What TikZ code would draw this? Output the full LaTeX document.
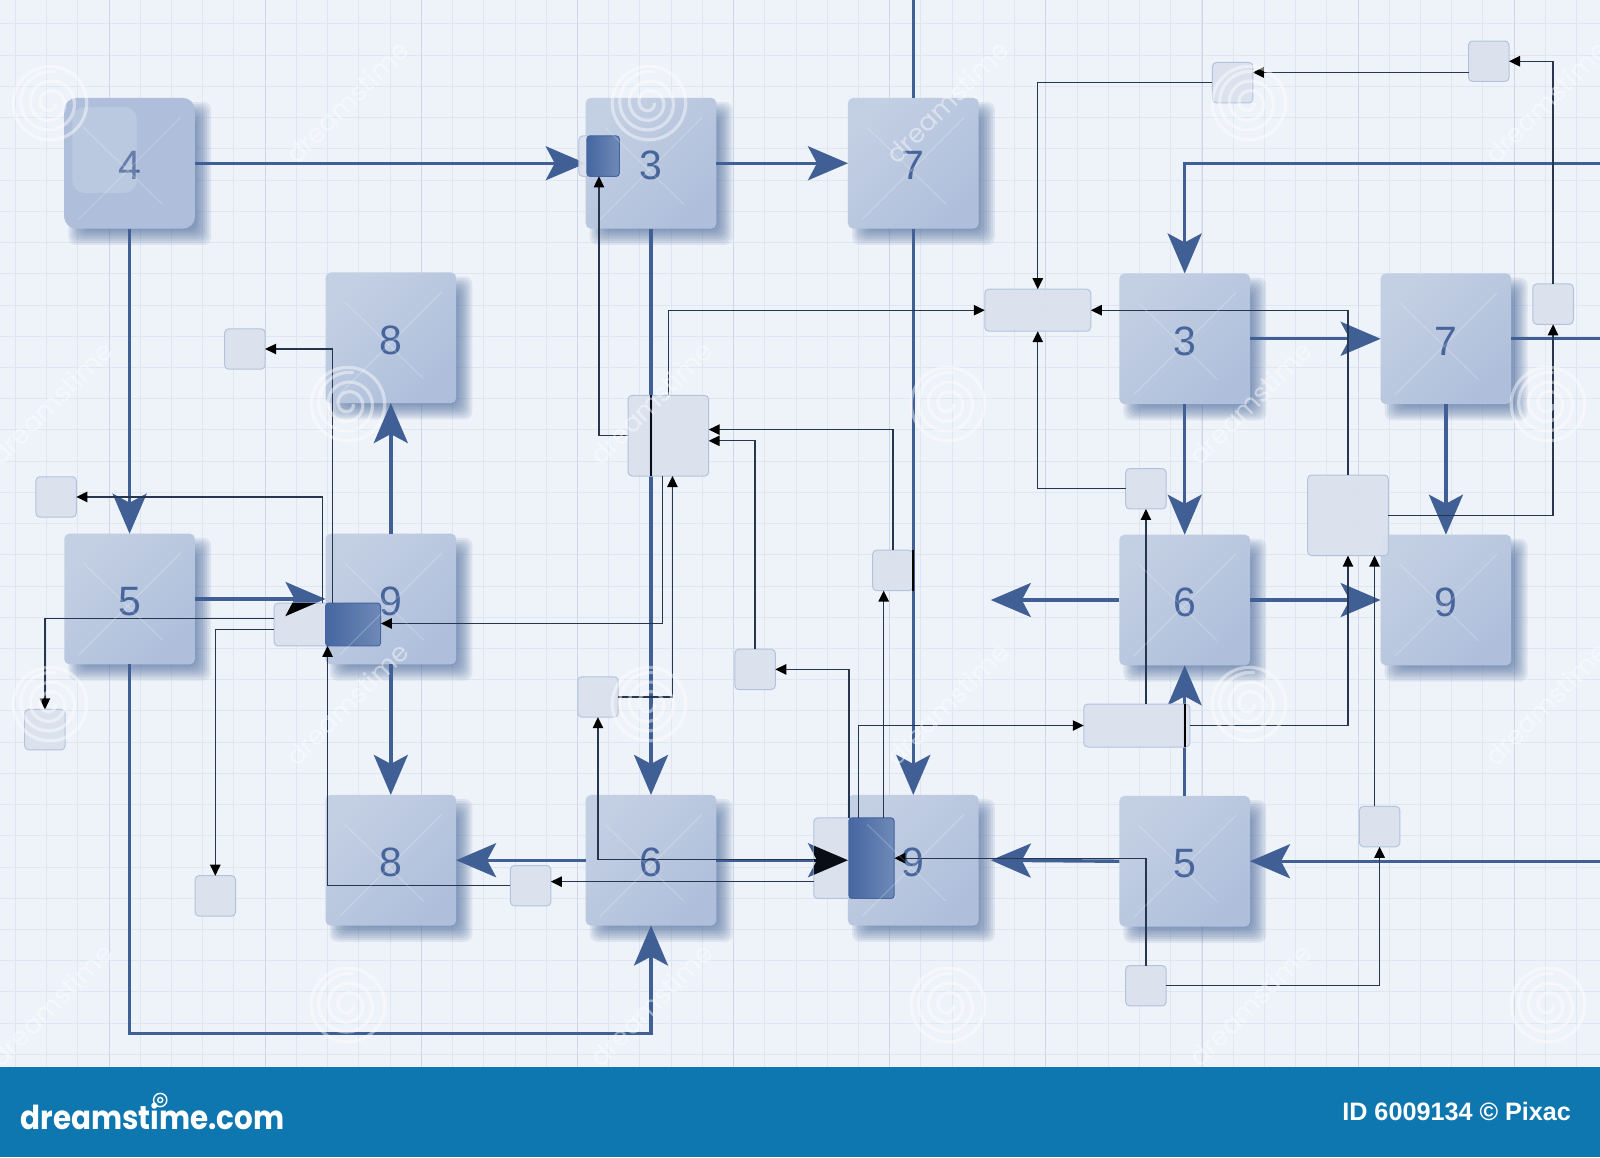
\documentclass[tikz,border=0pt]{standalone}
\usepackage{fontspec}
\setmainfont{Liberation Sans}
\newfontfamily\logofont{Poppins}
\usetikzlibrary{arrows.meta}

\definecolor{paper}{HTML}{EEF2F9}
\definecolor{gridminor}{HTML}{E0E6F1}
\definecolor{gridmajor}{HTML}{CFD7E7}
\definecolor{boxblue}{HTML}{AFBFDB}
\definecolor{boxlight}{HTML}{C3CFE3}
\definecolor{tabfill}{HTML}{DAE1EE}
\definecolor{tabline}{HTML}{B4C3DC}
\definecolor{flowblue}{HTML}{3F5F95}
\definecolor{wirecol}{HTML}{27364F}
\definecolor{digitblue}{HTML}{47659B}
\definecolor{darktab}{HTML}{4566A0}
\definecolor{darktabb}{HTML}{6F8AB8}
\definecolor{footerblue}{HTML}{0F77B0}

\begin{document}
\begin{tikzpicture}[x=0.5102pt, y=-0.5102pt]

% --- Define reusable styles ---
\tikzset{
    bigbox/.style={
        rounded corners=2.5pt, minimum size=65.3pt, inner sep=0pt, outer sep=0pt,
        top color=boxlight, middle color=boxblue, bottom color=boxblue, shading angle=45,
        text=digitblue, font=\fontsize{20.5}{22}\selectfont, text height=16.6pt, text depth=0pt
    },
    tabbox/.style={
        draw=tabline, line width=0.5pt, fill=tabfill, fill opacity=0.93, rounded corners=2pt,
        minimum size=20.2pt, inner sep=0pt, outer sep=0pt
    },
    darkbox/.style={
        draw=darktab, line width=0.5pt, rounded corners=1.5pt, inner sep=0pt, outer sep=0pt,
        left color=darktab, right color=darktabb
    },
    flow/.style={draw=flowblue, line width=1.7pt, -{Stealth[length=20pt, width=17pt, inset=4.5pt]}},
    flowplain/.style={draw=flowblue, line width=1.7pt},
    wire/.style={draw=wirecol, line width=0.65pt, -{Triangle[length=5.5pt, width=5.2pt, black]}},
    wiremark/.style={white, line width=0.5pt, opacity=0.22}
}

\useasboundingbox (0,0) rectangle (1568,1134);

% 1. Paper and grid
\fill[paper] (0,0) rectangle (1568,1046);
\foreach \i in {0,...,50} \draw[gridminor, line width=0.4pt] ({15+\i*30.6},0) -- ({15+\i*30.6},1046);
\foreach \i in {0,...,34} \draw[gridminor, line width=0.4pt] (0,{23.4+\i*30.6}) -- (1568,{23.4+\i*30.6});
\foreach \i in {0,...,9} \draw[gridmajor, line width=0.5pt] ({107+\i*153},0) -- ({107+\i*153},1046);

% 2. Soft shadows, then the numbered boxes
\foreach \x/\y in {127/160,638/160,895/160,383/331,1161/332,1417/332,127/587,383/587,1161/588,1417/588,383/843,638/843,895/843,1161/844} {
    \foreach \s in {56,58,...,70}
        \fill[flowblue, opacity=0.1, rounded corners=4pt] ({\x+10-\s},{\y+10-\s}) rectangle ({\x+10+\s},{\y+10+\s});
}
\node[bigbox, rounded corners=6pt, top color=boxblue] (box_4) at (127,160) {4};
\node[bigbox] (box_3a) at (638,160) {3};
\node[bigbox] (box_7a) at (895,160) {7};
\node[bigbox] (box_8a) at (383,331) {8};
\node[bigbox] (box_3b) at (1161,332) {3};
\node[bigbox] (box_7b) at (1417,332) {7};
\node[bigbox] (box_5a) at (127,587) {5};
\node[bigbox] (box_9a) at (383,587) {9};
\node[bigbox] (box_6b) at (1161,588) {6};
\node[bigbox] (box_9b) at (1417,588) {9};
\node[bigbox] (box_8b) at (383,843) {8};
\node[bigbox] (box_6a) at (638,843) {6};
\node[bigbox] (box_9c) at (895,843) {9};
\node[bigbox] (box_5b) at (1161,844) {5};

% the soft patch on the first box
\fill[white, opacity=0.16, rounded corners=6pt] (71,105) rectangle (134,189);

% 3. Free ends of the heavy lines
\coordinate (top_in) at (895,0);
\coordinate (right_in_a) at (1568,160);
\coordinate (right_in_b) at (1568,844);
\coordinate (right_out) at (1568,332);
\coordinate (left_out) at (971,588);
\coordinate (nine_tip) at (971,843);
\coordinate (low_run) at (127,1013);

% 4. Heavy lines
\draw[flowplain] (top_in) -- (box_7a.north);
\draw[flow] (box_7a.south) -- (box_9c.north);
\draw[flow] (box_4.east) -- (box_3a.west);
\draw[flow] (box_3a.east) -- (box_7a.west);
\draw[flow] (box_4.south) -- (box_5a.north);
\draw[flow] (box_3a.south) -- (box_6a.north);
\draw[flow] (box_9a.north) -- (box_8a.south);
\draw[flow] (box_5a.east) -- (box_9a.west);
\draw[flow] (box_9a.south) -- (box_8b.north);
\draw[flow] (box_6a.west) -- (box_8b.east);
\draw[flow] (box_6a.east) -- (box_9c.west);
\draw[flow] (box_5b.west) -- (nine_tip);
\draw[flow] (box_5a.south) -- (low_run) -| (box_6a.south);
\draw[flow] (right_in_a) -| (box_3b.north);
\draw[flow] (box_3b.east) -- (box_7b.west);
\draw[flowplain] (box_7b.east) -- (right_out);
\draw[flow] (box_3b.south) -- (box_6b.north);
\draw[flow] (box_7b.south) -- (box_9b.north);
\draw[flow] (box_6b.east) -- (box_9b.west);
\draw[flow] (box_6b.west) -- (left_out);
\draw[flow] (box_5b.north) -- (box_6b.south);
\draw[flow] (right_in_b) -- (box_5b.east);

% 5. Small pale boxes
\node[tabbox] (tab_a) at (1208,81) {};
\node[tabbox] (tab_b) at (1459,60) {};
\node[tabbox, minimum width=53pt, minimum height=21pt] (tab_c) at (1017,304) {};
\node[tabbox] (tab_d) at (1522,298) {};
\node[tabbox] (tab_e) at (240,342) {};
\node[tabbox] (tab_f) at (55,487) {};
\node[tabbox, minimum size=40.3pt] (tab_g) at (655,427) {};
\node[tabbox] (tab_h) at (1123,479) {};
\node[tabbox, minimum size=40.3pt] (tab_i) at (1321,505) {};
\node[tabbox] (tab_j) at (875,559) {};
\node[tabbox] (tab_k) at (586,683) {};
\node[tabbox] (tab_l) at (740,656) {};
\node[tabbox] (tab_m) at (44,715) {};
\node[tabbox, minimum width=53pt, minimum height=21.5pt] (tab_n) at (1114,711) {};
\node[tabbox] (tab_o) at (1352,810) {};
\node[tabbox] (tab_p) at (520,868) {};
\node[tabbox] (tab_q) at (211,878) {};
\node[tabbox] (tab_r) at (1123,966) {};
\node[tabbox, minimum width=53.4pt, minimum height=21.4pt] (tab_s) at (321,612) {};
\node[tabbox, minimum width=40.3pt, minimum height=40.3pt] (tab_t) at (837,841) {};
\node[tabbox] (tab_u) at (587,153) {};

% 6. Where they lie over a numbered box they turn dark
\node[darkbox, minimum width=27.5pt, minimum height=21.4pt] (dark_s) at (346,612) {};
\node[darkbox, minimum width=22.6pt, minimum height=40.3pt] (dark_t) at (854,841) {};
\node[darkbox, minimum width=16.2pt, minimum height=20.2pt] (dark_u) at (591,153) {};

% 7. Heavy lines darken inside the small boxes
\begin{scope}
    \clip (tab_s.south west) rectangle (tab_s.north east);
    \draw[flow, draw=black, fill=black] (box_5a.east) -- (box_9a.west);
\end{scope}
\begin{scope}
    \clip (tab_t.south west) rectangle (tab_t.north east);
    \draw[flow, draw=black!85!flowblue, fill=black!85!flowblue] (box_6a.east) -- (box_9c.west);
\end{scope}
\draw[flowplain, draw=black!85!flowblue, line width=1.2pt] (638,0 |- tab_g.north) -- (638,0 |- tab_g.south);
\draw[flowplain, draw=black, line width=1.2pt] (1161,0 |- tab_n.north) -- (1161,0 |- tab_n.south);
\draw[flowplain, draw=black, line width=1.2pt] (895,0 |- tab_j.north) -- (895,0 |- tab_j.south);

% 8. Thin wires
\draw[wire] (tab_a.west) -| (tab_c.north);
\draw[wire] (tab_b.west |- 0,71) -- (tab_a.east |- 0,71);
\draw[wire] (tab_d.north) |- (tab_b.east);
\draw[wire] (tab_i.east) -| (tab_d.south);
\draw[wire] (tab_i.north) |- (tab_c.east);
\draw[wire] (tab_h.west) -| (tab_c.south);
\draw[wire] (tab_h.south |- tab_n.north) -- (tab_h.south);
\draw[wire] (tab_n.east) -| (tab_i.south);
\draw[wire] (tab_g.north) |- (tab_c.west);
\draw[wire] (tab_g.west) -| (tab_u.south);
\draw[wire] (tab_k.east) -| (659,0 |- tab_g.south);
\draw[wire] (tab_j.north) |- (tab_g.east |- 0,421);
\draw[wire] (tab_l.north) |- (tab_g.east |- 0,432);
\draw[wire] (866,0 |- tab_t.north) -- (866,0 |- tab_j.south);
\draw[wire] (832,0 |- tab_t.north) |- (tab_l.east);
\draw[wire] (841,0 |- tab_t.north) |- (tab_n.west);
\draw[wire] (649,0 |- tab_g.south) |- (tab_s.east |- 0,611);
\draw[wire] (326,0 |- tab_s.north) |- (tab_e.east);
\draw[wire] (316,0 |- tab_s.north) |- (tab_f.east);
\draw[wire] (tab_s.west |- 0,606) -| (tab_m.north);
\draw[wire] (tab_s.west |- 0,617) -| (tab_q.north);
\draw[wire] (tab_p.west) -| (321,0 |- tab_s.south);
\draw[wire] (tab_t.west |- 0,864) -- (tab_p.east |- 0,864);
\draw[wire] (tab_t.west |- 0,842) -| (tab_k.south);
\draw[wire] (tab_r.north) |- (tab_t.east);
\draw[wire] (tab_r.east) -| (tab_o.south);
\draw[wire] (1347,0 |- tab_o.north) -- (1347,0 |- tab_i.south);

% 9. Stock marks over the drawing
\foreach \b in {box_4,box_3a,box_7a,box_8a,box_3b,box_7b,box_5a,box_9a,box_6b,box_9b,box_8b,box_6a,box_9c,box_5b} {
    \draw[wiremark] ([shift={(-50,55)}]\b.center) -- ([shift={(50,-45)}]\b.center);
    \draw[wiremark] ([shift={(-45,-35)}]\b.center) -- ([shift={(32,40)}]\b.center);
}
\foreach \x/\y in {49/101,636/101,1224/101,341/396,929/396,1517/396,49/690,636/690,1224/690,341/985,929/985,1517/985} {
    \draw[white, line width=1.6pt, opacity=0.45] (\x,\y) circle (36);
    \draw[white, line width=1.6pt, opacity=0.45] plot[variable=\t, domain=0:1000, samples=60, smooth] ({\x+(5+\t/38)*cos(\t)},{\y+(5+\t/38)*sin(\t)});
}
\foreach \x/\y in {340/100,928/100,1515/100,50/395,638/395,1225/395,340/690,928/690,1515/690,50/985,638/985,1225/985} {
    \node[white, opacity=0.45, rotate=45, font=\logofont\fontsize{13}{14}\selectfont] at (\x,\y) {dreamstime};
}

% 10. Footer band
\fill[footerblue] (0,1046) rectangle (1568,1134);
\node[white, anchor=base west, inner sep=0pt, font=\logofont\bfseries\fontsize{16.5}{18}\selectfont] (logo_text) at (20,1107) {\scalebox{0.89}[1]{dreamstime.com}};
\draw[white, line width=0.7pt] (157,1078) circle (6.5) (157,1078) circle (2.5);
\node[white, anchor=base east, inner sep=0pt, font=\bfseries\fontsize{12.6}{14}\selectfont] (id_text) at (1540,1098) {ID 6009134 © Pixac};

\end{tikzpicture}
\end{document}
